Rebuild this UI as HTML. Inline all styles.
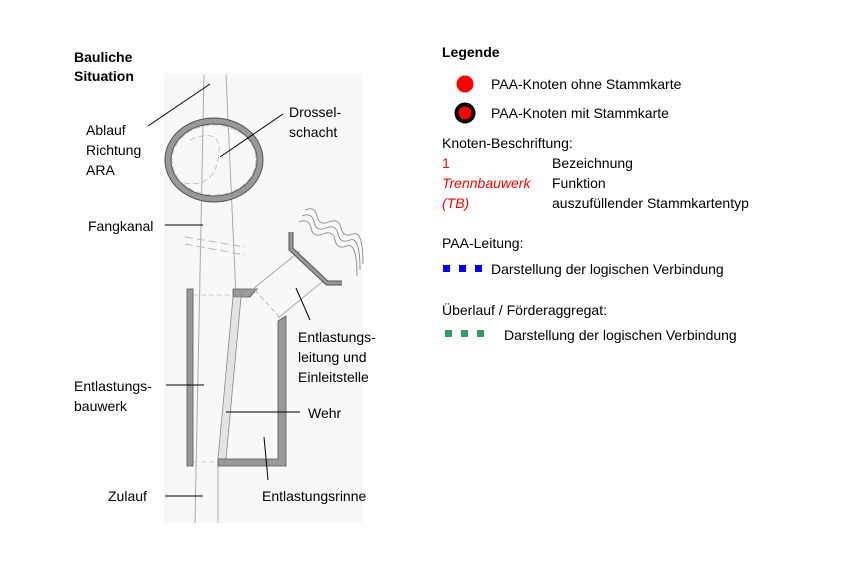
<!DOCTYPE html>
<html><head><meta charset="utf-8"><style>
body{margin:0;background:#fff;}
svg{display:block;font-family:"Liberation Sans",Arial,sans-serif;}
</style></head><body>
<svg width="867" height="582" viewBox="0 0 867 582" xmlns="http://www.w3.org/2000/svg">
<rect x="164" y="73" width="198" height="450" fill="#f8f8f8"/>
<!-- pipe lines -->
<line x1="204" y1="75" x2="195" y2="523" stroke="#aaa" stroke-width="1"/>
<line x1="226" y1="75" x2="236" y2="297" stroke="#aaa" stroke-width="1"/>
<line x1="218" y1="459" x2="218" y2="523" stroke="#aaa" stroke-width="1"/>
<!-- break dashes -->
<line x1="185" y1="237" x2="245" y2="247" stroke="#bbb" stroke-dasharray="8,4"/>
<line x1="185" y1="244" x2="245" y2="255" stroke="#bbb" stroke-dasharray="8,4"/>
<!-- shaft -->
<ellipse cx="214" cy="160" rx="46" ry="39" fill="none" stroke="#555" stroke-width="7"/>
<ellipse cx="214" cy="160" rx="46" ry="39" fill="none" stroke="#999" stroke-width="5"/>
<ellipse cx="214" cy="160" rx="42" ry="35" fill="none" stroke="#bbb" stroke-dasharray="6,3" stroke-width="0.8"/>
<path d="M190 140 Q225 125 218 160 Q212 190 180 182" fill="none" stroke="#bbb" stroke-dasharray="6,3" stroke-width="0.8"/>
<!-- structure -->
<line x1="193" y1="295" x2="235" y2="295" stroke="#ccc" stroke-dasharray="5,3"/>
<line x1="193" y1="462" x2="218" y2="462" stroke="#ccc" stroke-dasharray="5,3"/>
<rect x="187" y="289" width="6" height="177" fill="#999" stroke="#555" stroke-width="0.8"/>
<path d="M233 289 L257 289 L250 297 L233 297 Z" fill="#999" stroke="#555" stroke-width="0.8"/>
<path d="M233 297 L241 297 L226 459 L218 459 Z" fill="#e4e4e4" stroke="#888" stroke-width="0.8"/>
<path d="M218 459 L278 459 L278 321 L286 316 L286 466 L218 466 Z" fill="#999" stroke="#555" stroke-width="0.8"/>
<!-- outlet pipe -->
<line x1="243" y1="297" x2="300" y2="251" stroke="#aaa"/>
<line x1="278" y1="318" x2="322" y2="282" stroke="#aaa"/>
<line x1="255" y1="290" x2="280" y2="318" stroke="#bbb" stroke-dasharray="5,3"/>
<path d="M291 232 L291 249 L327 283 L342 283" fill="none" stroke="#555" stroke-width="5"/>
<path d="M291 232 L291 249 L327 283 L342 283" fill="none" stroke="#999" stroke-width="3"/>
<!-- waves -->
<g fill="none" stroke="#888" stroke-width="0.9">
<path d="M302 216 q10 -4 12 6 q2 10 12 6 q10 -4 12 6 q2 10 12 6 q10 -4 10 30"/>
<path d="M305 210 q10 -4 12 6 q2 10 12 6 q10 -4 12 6 q2 10 12 6 q10 -4 10 30"/>
<path d="M299 222 q10 -4 12 6 q2 10 12 6 q10 -4 12 6 q2 10 12 6 q10 -4 10 30"/>
</g>
<!-- leader lines -->
<g stroke="#000" stroke-width="1">
<line x1="148" y1="126" x2="210" y2="84"/>
<line x1="220" y1="157" x2="283" y2="114"/>
<line x1="165" y1="225" x2="203" y2="225"/>
<line x1="166" y1="385" x2="204" y2="385"/>
<line x1="165" y1="496" x2="203" y2="496"/>
<line x1="296" y1="288" x2="310" y2="320"/>
<line x1="226" y1="412" x2="300" y2="412"/>
<line x1="264" y1="437" x2="268" y2="480"/>
</g>
<!-- left labels -->
<g font-size="14" fill="#000">
<text x="74" y="62" font-weight="bold">Bauliche</text>
<text x="74" y="81" font-weight="bold">Situation</text>
<text x="86" y="135">Ablauf</text>
<text x="86" y="155">Richtung</text>
<text x="86" y="175">ARA</text>
<text x="289" y="117">Drossel-</text>
<text x="289" y="137">schacht</text>
<text x="88" y="231">Fangkanal</text>
<text x="298" y="342">Entlastungs-</text>
<text x="298" y="362">leitung und</text>
<text x="298" y="382">Einleitstelle</text>
<text x="74" y="391">Entlastungs-</text>
<text x="74" y="411">bauwerk</text>
<text x="308" y="418">Wehr</text>
<text x="108" y="501">Zulauf</text>
<text x="262" y="501">Entlastungsrinne</text>
</g>
<!-- legend -->
<g font-size="14" fill="#000">
<text x="442" y="57" font-weight="bold">Legende</text>
<circle cx="465" cy="84" r="8.5" fill="#ff0000"/>
<text x="491" y="89">PAA-Knoten ohne Stammkarte</text>
<circle cx="465" cy="113" r="8.5" fill="#ff0000" stroke="#000" stroke-width="4"/>
<text x="491" y="118">PAA-Knoten mit Stammkarte</text>
<text x="442" y="148">Knoten-Beschriftung:</text>
<text x="442" y="168" fill="#ff0000">1</text>
<text x="552" y="168">Bezeichnung</text>
<text x="442" y="188" fill="#ff0000" font-style="italic">Trennbauwerk</text>
<text x="552" y="188">Funktion</text>
<text x="442" y="208" fill="#ff0000" font-style="italic">(TB)</text>
<text x="552" y="208">auszufüllender Stammkartentyp</text>
<text x="442" y="248">PAA-Leitung:</text>
<rect x="443" y="265" width="7" height="7" fill="#0000ff"/>
<rect x="459" y="265" width="7" height="7" fill="#0000ff"/>
<rect x="475" y="265" width="7" height="7" fill="#0000ff"/>
<text x="491" y="274">Darstellung der logischen Verbindung</text>
<text x="442" y="315">Überlauf / Förderaggregat:</text>
<rect x="445" y="330" width="7" height="7" fill="#339966"/>
<rect x="461" y="330" width="7" height="7" fill="#339966"/>
<rect x="477" y="330" width="7" height="7" fill="#339966"/>
<text x="504" y="340">Darstellung der logischen Verbindung</text>
</g>
</svg>
</body></html>
